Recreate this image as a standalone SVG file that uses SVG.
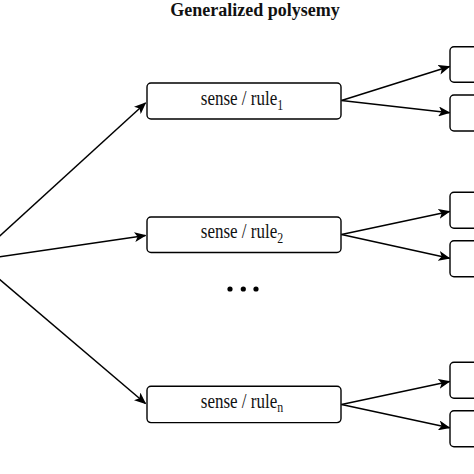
<svg xmlns="http://www.w3.org/2000/svg" width="474" height="474" viewBox="0 0 474 474">
<style>
.box{fill:#fff;stroke:#000;stroke-width:1.4}
.lbl{font-family:"Liberation Serif","Times New Roman",serif;font-size:20px;fill:#111;text-anchor:middle}
.title{font-family:"Liberation Serif","Times New Roman",serif;font-size:18px;font-weight:bold;fill:#111;text-anchor:middle}
.edge{stroke:#000;stroke-width:1.5;fill:none;marker-end:url(#ah)}
</style>
<defs>
<marker id="ah" viewBox="0 0 12 10" refX="11" refY="5" markerWidth="12" markerHeight="10" markerUnits="userSpaceOnUse" orient="auto">
<path d="M0,0 L12,5 L0,10 L3,5 Z" fill="#000"/>
</marker>
</defs>
<rect width="474" height="474" fill="#fff"/>
<text class="title" x="255" y="15.5">Generalized polysemy</text>
<g id="connectors">
<line class="edge" x1="-2" y1="237.5" x2="145.5" y2="103"/>
<line class="edge" x1="-2" y1="257" x2="145.5" y2="235.5"/>
<line class="edge" x1="-2" y1="278" x2="145.5" y2="403.5"/>
<line class="edge" x1="341.5" y1="100.5" x2="449.5" y2="66.5"/>
<line class="edge" x1="341.5" y1="100.5" x2="449.5" y2="112.7"/>
<line class="edge" x1="341.5" y1="234.5" x2="449.5" y2="211.5"/>
<line class="edge" x1="341.5" y1="234.5" x2="449.5" y2="258.3"/>
<line class="edge" x1="341.5" y1="404.5" x2="449.5" y2="381.5"/>
<line class="edge" x1="341.5" y1="404.5" x2="449.5" y2="427.7"/>
</g>
<g id="rule1">
<rect class="box" x="147" y="83" width="194" height="36" rx="4"/>
<text class="lbl" transform="translate(242,105) scale(0.85,1)">sense / rule<tspan font-size="14" dy="4.5">1</tspan></text>
</g>
<g id="rule2">
<rect class="box" x="147" y="217" width="194" height="35.5" rx="4"/>
<text class="lbl" transform="translate(242,238) scale(0.85,1)">sense / rule<tspan font-size="14" dy="4.5">2</tspan></text>
</g>
<g id="rulen">
<rect class="box" x="147" y="386.3" width="194" height="36.3" rx="4"/>
<text class="lbl" transform="translate(242,407.6) scale(0.85,1)">sense / rule<tspan font-size="14" dy="4.5">n</tspan></text>
</g>
<g id="dots">
<circle cx="230" cy="289" r="2.6" fill="#000"/>
<circle cx="243.3" cy="289" r="2.6" fill="#000"/>
<circle cx="256" cy="289" r="2.6" fill="#000"/>
</g>
<g id="out1a"><rect class="box" x="450" y="46.7" width="40" height="35.6" rx="4"/></g>
<g id="out1b"><rect class="box" x="450" y="95" width="40" height="36" rx="4"/></g>
<g id="out2a"><rect class="box" x="450" y="192.3" width="40" height="36" rx="4"/></g>
<g id="out2b"><rect class="box" x="450" y="240.7" width="40" height="36" rx="4"/></g>
<g id="outna"><rect class="box" x="450" y="362.3" width="40" height="36" rx="4"/></g>
<g id="outnb"><rect class="box" x="450" y="410.7" width="40" height="36" rx="4"/></g>
</svg>
